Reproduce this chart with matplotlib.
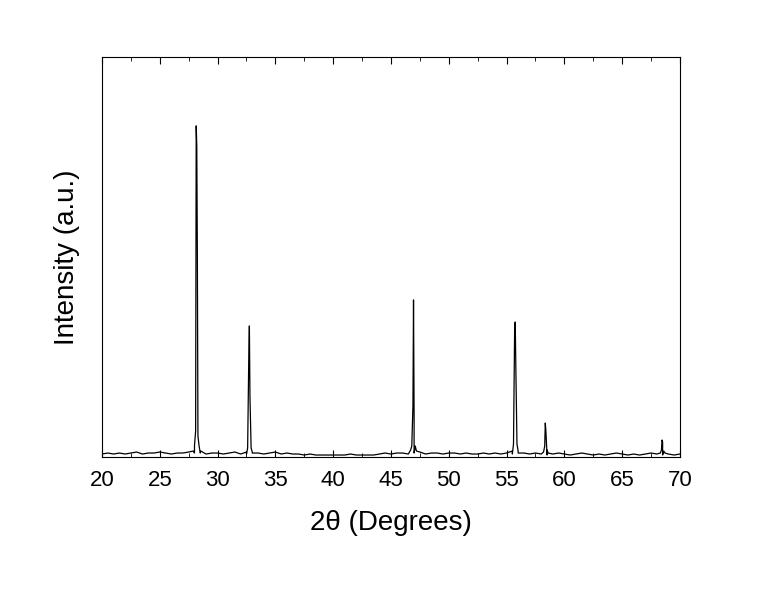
import numpy as np
import matplotlib.pyplot as plt
from matplotlib.ticker import MultipleLocator

plt.rcParams['font.family'] = ['Liberation Sans', 'DejaVu Sans']

# background trace, read every 0.5 degree
base_x = np.arange(20, 70.01, 0.5)
base_y = [2, 3, 2, 3, 2, 3, 4, 2, 3, 3, 4, 3, 2, 3, 3, 4, 3, 3, 2, 3,
          3, 2, 3, 4, 2, 2, 3, 3, 2, 3, 4, 2, 3, 2, 2, 1, 2, 1, 1, 1,
          1, 1, 1, 2, 1, 1, 1, 1, 2, 3, 2, 3, 3, 2, 3, 4, 2, 3, 3, 2,
          3, 3, 2, 3, 2, 2, 3, 2, 3, 2, 3, 2, 3, 3, 2, 3, 2, 1, 2, 3,
          2, 1, 2, 3, 2, 1, 2, 1, 2, 3, 2, 1, 2, 1, 2, 3, 2, 1, 2, 1, 2]

# diffraction peaks (2theta, intensity)
peak_x = [27.9, 28.0, 28.1, 28.15, 28.2, 28.25, 28.3, 28.4, 28.55,
          32.5, 32.6, 32.7, 32.75, 32.8, 32.9, 33.0,
          46.7, 46.8, 46.9, 46.95, 47.0, 47.1, 47.2,
          55.5, 55.6, 55.7, 55.75, 55.8, 55.9, 56.0,
          58.2, 58.3, 58.35, 58.4, 58.5, 58.6,
          68.3, 68.4, 68.45, 68.5, 68.6, 68.7]
peak_y = [5, 10, 25, 330, 310, 200, 20, 10, 5,
          4, 8, 100, 130, 60, 8, 4,
          6, 10, 50, 156, 40, 10, 5,
          5, 12, 130, 134, 90, 12, 5,
          4, 10, 33, 25, 6, 3,
          3, 6, 16, 14, 5, 3]

x = np.concatenate([base_x, peak_x])
y = np.concatenate([base_y, peak_y])
order = np.argsort(x)
x, y = x[order], y[order]

fig = plt.figure(figsize=(7.64, 5.92), dpi=100)
ax = fig.add_axes([0.1335, 0.228, 0.7565, 0.676])
ax.plot(x, y, color='black', lw=0.9)
ax.set_xlim(20, 70)
ax.set_ylim(-1, 399)
ax.xaxis.set_major_locator(MultipleLocator(5))
ax.xaxis.set_minor_locator(MultipleLocator(2.5))
ax.set_yticks([])
ax.tick_params(axis='x', which='both', direction='in', top=True, labelsize=16, pad=9)
ax.tick_params(axis='x', which='major', length=5)
ax.tick_params(axis='x', which='minor', length=3)
ax.set_xlabel('2θ (Degrees)', fontsize=20, labelpad=14)
ax.set_ylabel('Intensity (a.u.)', fontsize=20, labelpad=16)
fig.savefig('out.png', dpi=100)
